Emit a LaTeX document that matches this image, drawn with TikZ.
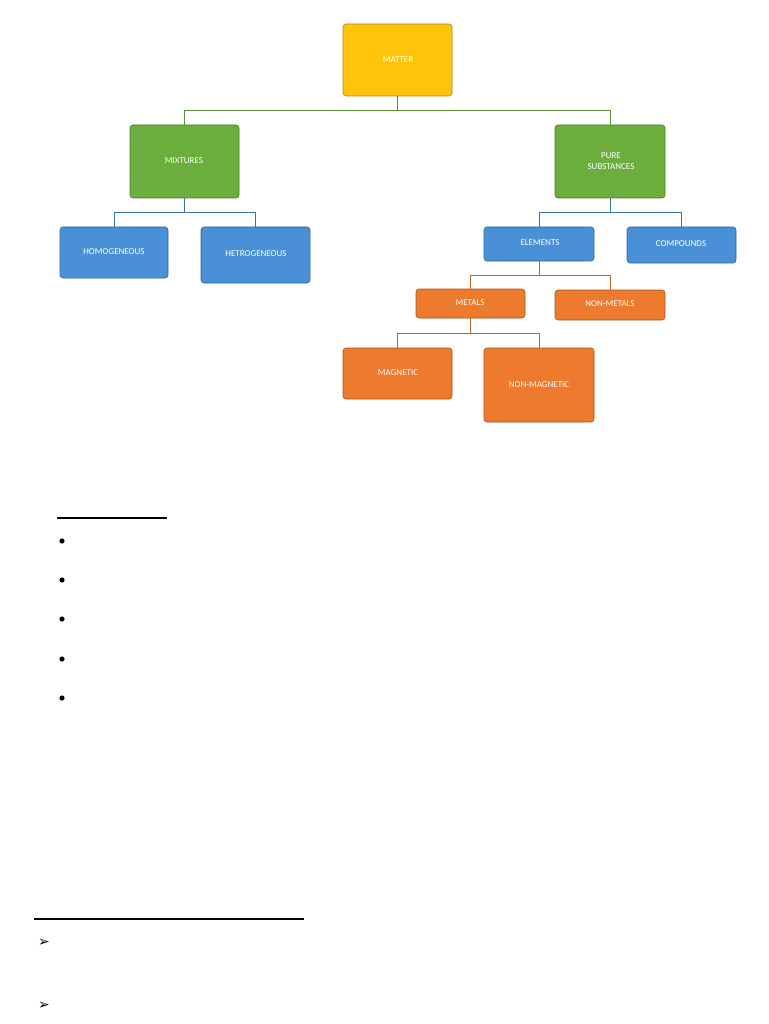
\documentclass[tikz,border=0pt]{standalone}
\usepackage{fontspec}
\setmainfont{Carlito}
\newfontfamily\djv{DejaVu Sans}
\begin{document}
\begin{tikzpicture}[x=1pt,y=-1pt,
  bx/.style={draw=#1!70!black,line width=0.6pt,fill=#1,rounded corners=3pt,minimum width=0pt,inner sep=0pt},
  lb/.style={text=white,font=\fontsize{9}{11}\selectfont,align=center},
  cn/.style={draw=#1,line width=0.8pt}]
\definecolor{yel}{HTML}{FFC40A}
\definecolor{grn}{HTML}{6BAE3E}
\definecolor{blu}{HTML}{4A90D6}
\definecolor{org}{HTML}{EE7A2E}
\useasboundingbox (0,0) rectangle (768,1024);
\newcommand{\bxx}[6]{\node[bx=#6,minimum width=#3-#1,minimum height=#4-#2] (#5) at ({(#1+#3)/2},{(#2+#4)/2}) {};}
\bxx{343}{24}{452}{96}{matter}{yel}
\bxx{130}{125}{239}{198}{mix}{grn}
\bxx{555}{125}{665}{198}{pure}{grn}
\bxx{60}{227}{168}{278}{homo}{blu}
\bxx{201}{227}{310}{283}{het}{blu}
\bxx{484}{227}{594}{261}{elem}{blu}
\bxx{627}{227}{736}{263}{comp}{blu}
\bxx{416}{289}{525}{318}{met}{org}
\bxx{555}{290}{665}{320}{nmet}{org}
\bxx{343}{348}{452}{399}{mag}{org}
\bxx{484}{348}{594}{422}{nmag}{org}
\node[lb] (tmatter) at (398,60) {MATTER};
\node[lb] (tmix) at (184,161) {MIXTURES};
\node[lb] (tpure) at (611,161) {PURE\\SUBSTANCES};
\node[lb] (thomo) at (114,252) {HOMOGENEOUS};
\node[lb] (thet) at (256,254) {HETROGENEOUS};
\node[lb] (telem) at (540,243) {ELEMENTS};
\node[lb] (tcomp) at (681,244) {COMPOUNDS};
\node[lb] (tmet) at (470,303) {METALS};
\node[lb] (tnmet) at (610,304) {NON-METALS};
\node[lb] (tmag) at (398,373) {MAGNETIC};
\node[lb] (tnmag) at (539,385) {NON-MAGNETIC};
\draw[cn=grn!80!black] (matter.south) -- ++(0,14) -| (mix.north);
\draw[cn=grn!80!black] (matter.south) -- ++(0,14) -| (pure.north);
\draw[cn=blu!80!black] (mix.south) -- ++(0,14) -| (homo.north);
\draw[cn=blu!80!black] (mix.south) -- ++(0,14) -| (het.north);
\draw[cn=blu!80!black] (pure.south) -- ++(0,14) -| (elem.north);
\draw[cn=blu!80!black] (pure.south) -- ++(0,14) -| (comp.north);
\draw[cn=org!80!black] (elem.south) -- ++(0,14) -| (met.north);
\draw[cn=org!80!black] (elem.south) -- ++(0,14) -| (nmet.north);
\draw[cn=org!80!black] (met.south) -- ++(0,15) -| (mag.north);
\draw[cn=org!80!black] (met.south) -- ++(0,15) -| (nmag.north);
\coordinate (u1) at (57,518); \coordinate (u2) at (167,518);
\draw[line width=1.2pt] (u1) -- (u2);
\foreach \yy in {541,580,619,659,698} \fill (62,\yy) circle (2.6);
\coordinate (w1) at (34,919); \coordinate (w2) at (304,919);
\draw[line width=1.8pt] (w1) -- (w2);
\node[font=\djv\fontsize{14}{16}\selectfont] (a1) at (44,943) {➢};
\node[font=\djv\fontsize{14}{16}\selectfont] (a2) at (44,1006) {➢};
\end{tikzpicture}
\end{document}
